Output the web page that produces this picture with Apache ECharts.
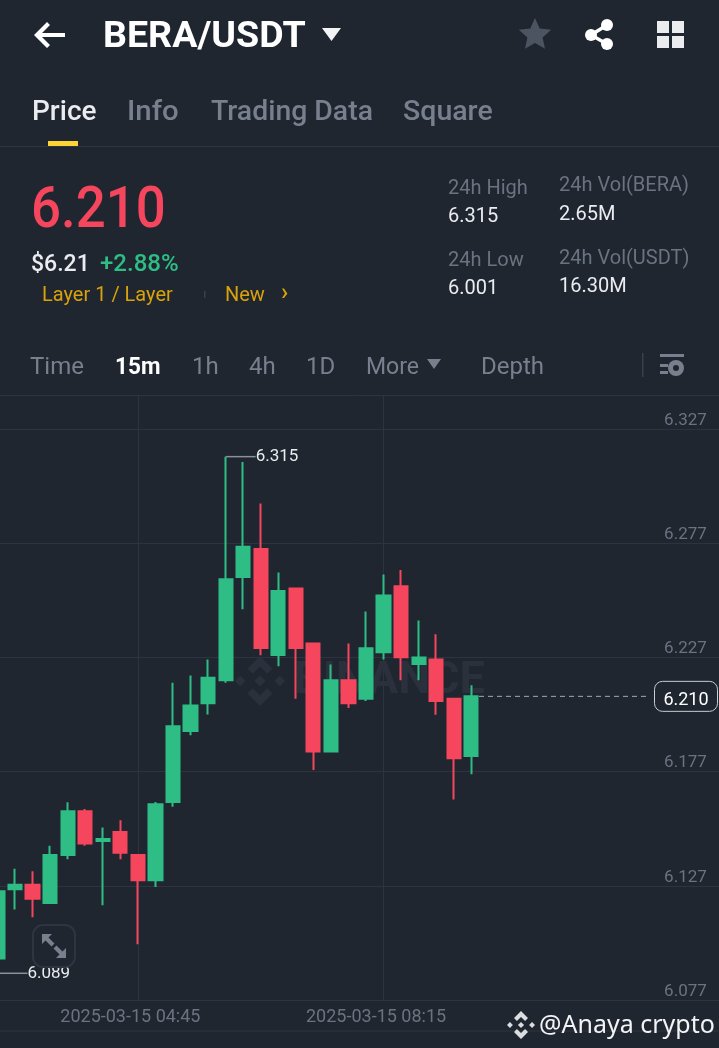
<!DOCTYPE html>
<html lang="en">
<head>
  <meta charset="UTF-8">
  <title>BERA/USDT</title>
  <script src="https://cdn.jsdelivr.net/npm/echarts@6/dist/echarts.min.js"></script>
  <style>html,body{margin:0;padding:0;background:#1f2630;overflow:hidden}</style>
</head>
<body>
  <div id="main" style="width:719px;height:1048px;"></div>
  <script type="text/javascript">
    // Candles, 15 minutes each
    const times = ['02:45','03:00','03:15','03:30','03:45','04:00','04:15','04:30','04:45','05:00','05:15','05:30','05:45','06:00',
      '06:15','06:30','06:45','07:00','07:15','07:30','07:45','08:00','08:15','08:30','08:45','09:00','09:15','09:30',
      '09:45','10:00','10:15','10:30','10:45','11:00','11:15','11:30','11:45','12:00','12:15','12:30','12:45','13:00'];
    const opens  = [6.0952,6.1255,6.1275,6.1195,6.1405,6.1597,6.1466,6.1506,6.1405,6.1295,6.1637,6.1948,6.2070,6.2171,
      6.2623,6.2745,6.2281,6.2572,6.2331,6.1858,6.2171,6.2089,6.2293,6.2582,6.2242,6.2261,6.2089,6.1839];
    const closes = [6.1246,6.1275,6.1214,6.1405,6.1597,6.1456,6.1475,6.1415,6.1295,6.1627,6.1969,6.2060,6.2181,6.2613,
      6.2755,6.2312,6.2562,6.2312,6.1858,6.2171,6.2070,6.2311,6.2542,6.2271,6.2270,6.2080,6.1829,6.2100];
    const lows   = [6.0887,6.1166,6.1133,6.1195,6.1386,6.1446,6.1185,6.1386,6.1014,6.1265,6.1617,6.1930,6.2020,6.2160,
      6.2482,6.2280,6.2232,6.2090,6.1777,6.1858,6.2049,6.2080,6.2261,6.2171,6.2171,6.2019,6.1648,6.1759];
    const highs  = [6.1275,6.1345,6.1334,6.1446,6.1636,6.1607,6.1526,6.1557,6.1405,6.1637,6.2160,6.2191,6.2261,6.3150,
      6.3126,6.2945,6.2643,6.2572,6.2331,6.2239,6.2331,6.2472,6.2634,6.2653,6.2432,6.2372,6.2089,6.2149];
    const timeTicks = ['04:45', '08:15'];
    const lastPrice = 6.210;

    const FONT = 'Roboto, sans-serif';
    const WHITE = '#eaecef', GREY = '#78808e', DIM = '#6b7380', LINE = '#2e343f';
    const UP = '#2ebd85', DOWN = '#f6465d', GOLD = '#d9a20b';

    // y is the wanted centre of the caps, the font sits a little high in its box
    function text(str, x, y, size, fill, weight, align, sx) {
      return { type: 'text', x: x, y: y + 2, scaleX: sx || 1, z: 10, silent: true, style: {
        text: str, fill: fill, align: align || 'left', verticalAlign: 'middle',
        font: (weight || 400) + ' ' + size + 'px ' + FONT } };
    }
    function rect(x, y, w, h, fill, r) {
      return { type: 'rect', z: 10, silent: true, shape: { x: x, y: y, width: w, height: h, r: r || 0 }, style: { fill: fill } };
    }
    function poly(points, fill, z) {
      return { type: 'polygon', z: z || 10, silent: true, shape: { points: points }, style: { fill: fill } };
    }
    function line(x1, y1, x2, y2, stroke, width, dash) {
      return { type: 'line', z: 10, silent: true, shape: { x1: x1, y1: y1, x2: x2, y2: y2 },
        style: { stroke: stroke, lineWidth: width, lineDash: dash || null, lineCap: 'butt' } };
    }
    function circle(cx, cy, r, fill) {
      return { type: 'circle', z: 10, silent: true, shape: { cx: cx, cy: cy, r: r }, style: { fill: fill } };
    }
    function logo(cx, cy, s, fill, z) {
      const p = (arr) => poly(arr.map(a => [cx + a[0] * s, cy + a[1] * s]), fill, z);
      const dia = (dx, dy, r) => p([[dx, dy - r], [dx + r, dy], [dx, dy + r], [dx - r, dy]]);
      return [
        p([[0, -1], [0.5, -0.5], [0.29, -0.29], [0, -0.58], [-0.29, -0.29], [-0.5, -0.5]]),
        p([[0, 1], [0.5, 0.5], [0.29, 0.29], [0, 0.58], [-0.29, 0.29], [-0.5, 0.5]]),
        dia(0, 0, 0.22), dia(-0.79, 0, 0.21), dia(0.79, 0, 0.21)
      ];
    }
    function star(cx, cy, R, r, fill) {
      const pts = [];
      for (let i = 0; i < 10; i++) {
        const a = -Math.PI / 2 + i * Math.PI / 5, d = i % 2 ? r : R;
        pts.push([cx + d * Math.cos(a), cy + d * Math.sin(a)]);
      }
      return poly(pts, fill);
    }

    const chrome = [
      // top bar
      line(37, 35, 65, 35, '#fff', 4), poly([[34, 35], [47, 22], [50, 25], [40, 35], [50, 45], [47, 48]], '#fff'),
      text('BERA/USDT', 103, 36, 37, '#fff', 700, 'left', 1.015),
      poly([[322, 28], [341, 28], [331.5, 41]], '#f2f3f5'),
      star(535, 35, 17, 8, '#4c5462'),
      line(591, 35, 607, 25, '#fff', 3.5), line(591, 35, 607, 44, '#fff', 3.5),
      circle(591, 35, 6, '#fff'), circle(607, 25, 6, '#fff'), circle(607, 44, 6, '#fff'),
      rect(657, 21, 12, 12, '#eaecef'), rect(672, 21, 12, 12, '#eaecef'), rect(657, 36, 12, 12, '#eaecef'), rect(672, 36, 12, 12, '#eaecef'),
      // tabs
      text('Price', 32, 111, 28, WHITE, 500), text('Info', 127, 111, 28.5, GREY, 500, 'left', 1.03),
      text('Trading Data', 211, 111, 28.4, GREY, 500), text('Square', 403, 111, 28.5, GREY, 500),
      rect(48, 141, 30, 5, '#fcd535'), line(0, 146.5, 719, 146.5, LINE, 1),
      // price block
      text('6.210', 31, 210, 58, DOWN, 500, 'left', 0.91),
      text('$6.21', 31, 263, 24, WHITE, 500, 'left', 0.96), text('+2.88%', 100, 263, 24, UP, 500),
      text('Layer 1 / Layer', 42, 294, 20, GOLD), rect(204, 291, 1.5, 7, '#3a404b'),
      text('New', 225, 294, 20, GOLD), text('›', 281, 292, 24, GOLD, 500),
      text('24h High', 448, 187, 20, DIM), text('6.315', 448, 215, 20, WHITE),
      text('24h Low', 448, 259, 20, DIM), text('6.001', 448, 287, 20, WHITE),
      text('24h Vol(BERA)', 559, 184, 20, DIM), text('2.65M', 559, 213, 20, WHITE),
      text('24h Vol(USDT)', 559, 257, 20, DIM), text('16.30M', 559, 285, 20, WHITE),
      // interval row
      text('Time', 30, 366, 24, GREY), text('15m', 115, 366, 24, '#fff', 700, 'left', 0.94), text('1h', 192, 366, 24, GREY),
      text('4h', 249, 366, 24, GREY), text('1D', 306, 366, 24, GREY), text('More', 366, 366, 24, GREY, 400, 'left', 0.96),
      poly([[427, 359], [441, 359], [434, 369]], GREY), text('Depth', 481, 366, 24, GREY),
      rect(642, 353, 1.5, 24, '#3a404b'),
      rect(660, 354, 24, 3, GREY), rect(660, 364, 8, 3, GREY), rect(660, 371, 8, 3, GREY),
      circle(676, 368, 8, GREY), circle(676, 368, 3, '#1f2630'),
      // expand button
      { type: 'rect', z: 10, silent: true, shape: { x: 33, y: 925, width: 42, height: 42, r: 10 }, style: { fill: 'none', stroke: '#2f3540', lineWidth: 2 } },
      poly([[42, 934], [52, 934], [42, 944]], GREY), line(45, 937, 53, 945, GREY, 4),
      poly([[66, 958], [56, 958], [66, 948]], GREY), line(63, 955, 55, 947, GREY, 4),
      // lower rule and credit
      line(0, 1031, 719, 1031, LINE, 1),
      ...logo(521, 1025, 14, '#dcdde0', 12),
      { type: 'text', x: 539, y: 1026, z: 12, silent: true, style: { text: '@Anaya crypto', fill: '#f2f3f5', align: 'left', verticalAlign: 'middle', font: '400 25px "Noto Sans", sans-serif' } },
      // chart watermark
      ...logo(260, 681, 25, '#2b313c', 1),
      { type: 'text', x: 294, y: 682, z: 1, silent: true, style: { text: 'BINANCE', fill: '#2b313c', align: 'left', verticalAlign: 'middle', font: '700 45px ' + FONT } }
    ];

    let myChart = echarts.init(document.getElementById('main'));

    let options = {
      animation: false,
      backgroundColor: '#1f2630',
      grid: { left: -11.3, top: 395, width: 737.1, height: 605, containLabel: false, outerBoundsMode: 'none' },
      xAxis: {
        type: 'category',
        data: times,
        axisLine: { show: true, lineStyle: { color: LINE } },
        axisTick: { show: false },
        axisLabel: {
          interval: (i, v) => timeTicks.includes(v),
          formatter: v => '2025-03-15 ' + v,
          color: DIM, fontFamily: FONT, fontSize: 18, margin: 8, padding: [0, 15, 0, 0], hideOverlap: false
        },
        splitLine: { show: true, alignWithLabel: true, interval: (i, v) => timeTicks.includes(v), lineStyle: { color: LINE } }
      },
      yAxis: {
        type: 'value',
        position: 'right',
        min: 6.077,
        max: 6.342,
        interval: 0.05,
        axisLine: { show: false },
        axisTick: { show: false },
        axisLabel: {
          inside: true, margin: 19, showMaxLabel: false,
          formatter: v => v.toFixed(3),
          color: DIM, fontFamily: FONT, fontSize: 17, verticalAlign: 'bottom', padding: 0
        },
        splitLine: { show: true, lineStyle: { color: LINE } }
      },
      series: [{
        type: 'candlestick',
        barWidth: 13.7,
        z: 5,
        data: opens.map((o, i) => [o, closes[i], lows[i], highs[i]]),
        itemStyle: { color: UP, color0: DOWN, borderColor: UP, borderColor0: DOWN, borderWidth: 2 },
        markPoint: {
          symbol: 'circle', symbolSize: 0, silent: true,
          label: {
            show: true, position: 'right', distance: 0,
            formatter: p => '{l|}{v|' + p.value.toFixed(3) + '}',
            rich: {
              l: { width: 30, height: 1.5, backgroundColor: '#8b919c' },
              v: { color: WHITE, fontFamily: FONT, fontSize: 17, padding: [0, 0, 0, 0] }
            }
          },
          data: [
            { coord: [times[13], highs[13]], value: highs[13] },
            { coord: [times[0], lows[0]], value: lows[0] }
          ]
        }
      }],
      graphic: chrome
    };

    myChart.setOption(options);

    // Last price line and tag sit on the price scale
    const lastY = myChart.convertToPixel({ yAxisIndex: 0 }, lastPrice);
    myChart.setOption({ graphic: chrome.concat([
      line(479, lastY, 650, lastY, '#a5aab3', 1, [5, 4]),
      { type: 'rect', z: 10, silent: true, shape: { x: 654.5, y: lastY - 15, width: 63, height: 30, r: 8 }, style: { fill: '#1f2630', stroke: '#c9ccd2', lineWidth: 1 } },
      text(lastPrice.toFixed(3), 686, lastY + 2, 18, '#fff', 400, 'center')
    ]) });
  </script>
</body>
</html>
